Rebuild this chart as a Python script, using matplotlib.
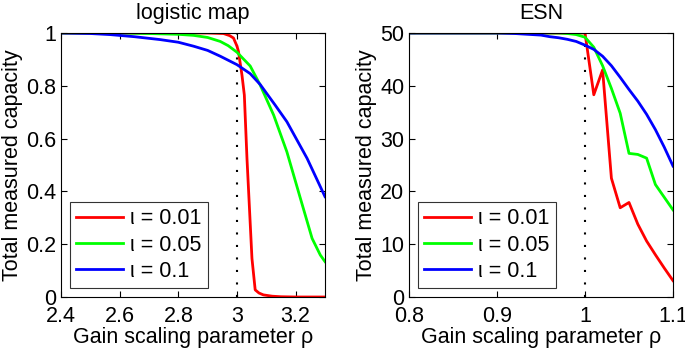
import matplotlib
matplotlib.use('Agg')
import matplotlib.pyplot as plt

plt.rcParams['font.family'] = ['Liberation Sans', 'DejaVu Sans']

# logistic map data
rho_log_red = [2.4, 2.8, 2.9, 2.954, 2.975, 2.988, 3.0, 3.005, 3.017, 3.025, 3.034, 3.051, 3.062, 3.075, 3.09, 3.12, 3.15, 3.2, 3.3]
cap_log_red = [1.0, 1.0, 1.0, 0.998, 0.99, 0.981, 0.95, 0.93, 0.84, 0.765, 0.525, 0.146, 0.027, 0.015, 0.008, 0.003, 0.001, 0.0, 0.0]
rho_log_green = [2.4, 2.6, 2.7, 2.8, 2.852, 2.9, 2.943, 2.97, 3.0, 3.045, 3.079, 3.125, 3.17, 3.216, 3.256, 3.284, 3.3]
cap_log_green = [1.0, 1.0, 0.998, 0.995, 0.991, 0.983, 0.968, 0.952, 0.927, 0.875, 0.803, 0.689, 0.55, 0.374, 0.222, 0.159, 0.134]
rho_log_blue = [2.4, 2.5, 2.567, 2.65, 2.738, 2.8, 2.852, 2.9, 2.943, 3.0, 3.045, 3.079, 3.13, 3.17, 3.239, 3.3]
cap_log_blue = [1.0, 0.998, 0.994, 0.986, 0.975, 0.965, 0.95, 0.934, 0.912, 0.88, 0.846, 0.805, 0.727, 0.664, 0.525, 0.38]

# ESN data
rho_esn = [0.8, 0.85, 0.9, 0.92, 0.94, 0.95, 0.96, 0.97, 0.98, 0.99, 1.0, 1.01, 1.02, 1.03, 1.04, 1.05, 1.06, 1.07, 1.08, 1.09, 1.1]
cap_esn_red = [50, 50, 50, 50, 50, 50, 50, 50, 50, 50, 50, 38.3, 43.0, 22.5, 16.9, 17.9, 13.8, 10.6, 8.0, 5.5, 3.1]
cap_esn_green = [50, 50, 50, 50, 50, 50, 50, 50, 49.9, 49.7, 49.2, 47.3, 43.8, 39.5, 34.8, 27.2, 27.0, 26.3, 21.3, 18.9, 16.5]
cap_esn_blue = [50, 50, 50, 49.9, 49.7, 49.6, 49.3, 49.1, 48.8, 48.4, 47.7, 46.9, 45.6, 43.8, 41.6, 39.3, 37.1, 34.6, 31.7, 28.4, 24.8]

labels = ['\u03b9 = 0.01', '\u03b9 = 0.05', '\u03b9 = 0.1']
colors = ['#ff0000', '#00ff00', '#0000ff']

fig = plt.figure(figsize=(6.85, 3.49), dpi=100)
ax1 = fig.add_axes([61/685, 1-297/349, 264/685, 264/349])
ax2 = fig.add_axes([409/685, 1-297/349, 264/685, 264/349])

lw = 2.0
ax1.plot(rho_log_red, cap_log_red, color=colors[0], lw=lw, label=labels[0])
ax1.plot(rho_log_green, cap_log_green, color=colors[1], lw=lw, label=labels[1])
ax1.plot(rho_log_blue, cap_log_blue, color=colors[2], lw=lw, label=labels[2])
ax1.axvline(3.0, color='black', lw=1.5, linestyle=(0, (1, 5)), zorder=0)
ax1.set_xlim(2.4, 3.3)
ax1.set_ylim(0, 1)
ax1.set_xticks([2.4, 2.6, 2.8, 3.0, 3.2])
ax1.set_xticklabels(['2.4', '2.6', '2.8', '3', '3.2'])
ax1.set_yticks([0, 0.2, 0.4, 0.6, 0.8, 1])
ax1.set_yticklabels(['0', '0.2', '0.4', '0.6', '0.8', '1'])
ax1.set_title('logistic map', fontsize=15.5, pad=10)

ax2.plot(rho_esn, cap_esn_red, color=colors[0], lw=lw, label=labels[0])
ax2.plot(rho_esn, cap_esn_green, color=colors[1], lw=lw, label=labels[1])
ax2.plot(rho_esn, cap_esn_blue, color=colors[2], lw=lw, label=labels[2])
ax2.axvline(1.0, color='black', lw=1.5, linestyle=(0, (1, 5)), zorder=0)
ax2.set_xlim(0.8, 1.1)
ax2.set_ylim(0, 50)
ax2.set_xticks([0.8, 0.9, 1.0, 1.1])
ax2.set_xticklabels(['0.8', '0.9', '1', '1.1'])
ax2.set_yticks([0, 10, 20, 30, 40, 50])
ax2.set_title('ESN', fontsize=15.5, pad=10)

for ax in (ax1, ax2):
    ax.tick_params(direction='in', top=True, right=True, length=4, width=0.8, labelsize=15.5)
    ax.tick_params(axis='x', pad=6.5)
    ax.tick_params(axis='y', pad=3.5)
    ax.set_xlabel('Gain scaling parameter \u03c1', fontsize=15.5, labelpad=0)
    ax.set_ylabel('Total measured capacity', fontsize=15.5, labelpad=2)
    leg = ax.legend(loc='lower left', fontsize=15.5, frameon=True, fancybox=False,
                    edgecolor='black', handlelength=2.2, handletextpad=0.3,
                    labelspacing=0.25, borderpad=0.3, borderaxespad=0.4)
    leg.get_frame().set_linewidth(0.8)

fig.savefig('out.png', dpi=100)
